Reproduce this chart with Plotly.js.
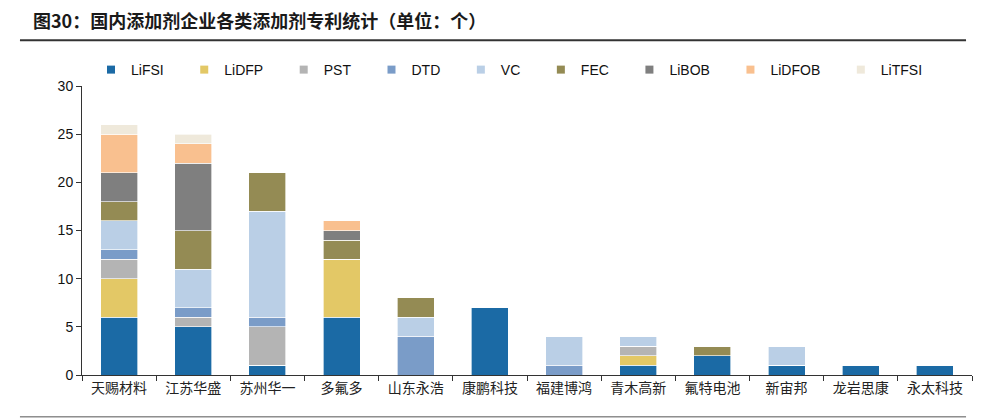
<!DOCTYPE html>
<html>
<head>
<meta charset="utf-8">
<script src="https://cdn.plot.ly/plotly-3.0.1.min.js"></script>
<style>html,body{margin:0;padding:0;background:#fff;}#chart{width:1000px;height:418px;}</style>
</head>
<body>
<div id="chart"></div>
<script>
const categories = ["天赐材料","江苏华盛","苏州华一","多氟多","山东永浩","康鹏科技","福建博鸿","青木高新","氟特电池","新宙邦","龙岩思康","永太科技"];
const seriesNames = ["LiFSI","LiDFP","PST","DTD","VC","FEC","LiBOB","LiDFOB","LiTFSI"];
const LiFSI  = [6,5,1,6,0,7,0,1,2,1,1,1];
const LiDFP  = [4,0,0,6,0,0,0,1,0,0,0,0];
const PST    = [2,1,4,0,0,0,0,1,0,0,0,0];
const DTD    = [1,1,1,0,4,0,1,0,0,0,0,0];
const VC     = [3,4,11,0,2,0,3,1,0,2,0,0];
const FEC    = [2,4,4,2,2,0,0,0,1,0,0,0];
const LiBOB  = [3,7,0,1,0,0,0,0,0,0,0,0];
const LiDFOB = [4,2,0,1,0,0,0,0,0,0,0,0];
const LiTFSI = [1,1,0,0,0,0,0,0,0,0,0,0];
const seriesValues = [LiFSI,LiDFP,PST,DTD,VC,FEC,LiBOB,LiDFOB,LiTFSI];
const colors = ["#1B6AA5","#E3C866","#B4B4B4","#7A9CC8","#BACFE6","#948B54","#7F7F7F","#F9C08F","#EFE9DB"];
const yTicks = [0,5,10,15,20,25,30];

const pad = '\u00a0\u00a0\u00a0\u00a0';
const barTraces = seriesNames.map((name,i)=>({
  type:'bar', name:name, x:categories, y:seriesValues[i], showlegend:false, legendgroup:name,
  marker:{color:colors[i], line:{color:'rgba(255,255,255,0.8)', width:0.8}},
  hoverinfo:'name+y'
}));
const legendTraces = seriesNames.map((name,i)=>({
  type:'scatter', mode:'markers', name:name + pad, x:[null], y:[null], legendgroup:name,
  marker:{color:colors[i], symbol:'square', size:8}, hoverinfo:'skip'
}));

const layout = {
  width:1000, height:418,
  margin:{l:82, r:28, t:85, b:43},
  paper_bgcolor:'#fff', plot_bgcolor:'#fff',
  barmode:'stack', bargap:0.5,
  font:{family:'"Liberation Sans", Arial, sans-serif', color:'#222'},
  title:{text:'<b>图30：国内添加剂企业各类添加剂专利统计（单位：个）</b>', xref:'container', yref:'container', x:0.033, xanchor:'left', y:0.947, yanchor:'middle',
    font:{family:'"Noto Sans CJK SC", sans-serif', size:18, color:'#1a1a1a'}},
  showlegend:true,
  legend:{orientation:'h', xref:'container', yref:'container', x:0.091, xanchor:'left', y:0.8325, yanchor:'middle', traceorder:'normal',
    itemwidth:30, font:{size:14, color:'#111'}, bgcolor:'rgba(0,0,0,0)'},
  xaxis:{type:'category', showline:true, linecolor:'#333', linewidth:1, ticks:'outside', tickson:'boundaries', ticklen:5, tickcolor:'#333',
    showgrid:false, tickfont:{family:'"Noto Sans CJK SC", sans-serif', size:14, color:'#222'}, fixedrange:true},
  yaxis:{range:[0,30], tickvals:yTicks, showline:true, linecolor:'#333', linewidth:1, ticks:'outside', ticklen:5, tickcolor:'#333',
    showgrid:false, zeroline:false, tickfont:{size:14, color:'#111'}, fixedrange:true},
  shapes:[
    {type:'line', xref:'paper', yref:'paper', x0:-0.0697, x1:0.9933, y0:1.1586, y1:1.1586, line:{color:'#333', width:2}},
    {type:'line', xref:'paper', yref:'paper', x0:-0.0697, x1:0.9933, y0:-0.1448, y1:-0.1448, line:{color:'#555', width:1}}
  ]
};
Plotly.newPlot('chart', barTraces.concat(legendTraces), layout, {displayModeBar:false, staticPlot:true});
</script>
</body>
</html>
